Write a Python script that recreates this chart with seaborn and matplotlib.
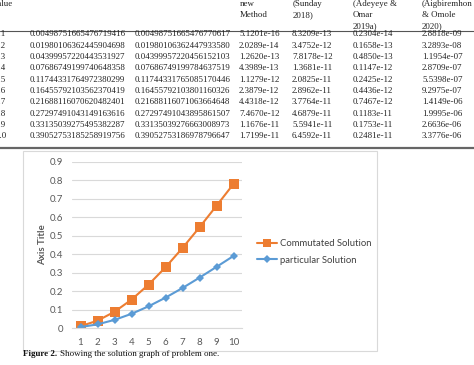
import matplotlib
matplotlib.use("Agg")
import matplotlib.pyplot as plt
import seaborn as sns
import pandas as pd
from matplotlib.patches import Rectangle
from matplotlib.lines import Line2D

# ---------------- data ----------------
table_x = ["0.1", "0.2", "0.3", "0.4", "0.5", "0.6", "0.7", "0.8", "0.9", "1.0"]
exact_col = ["0.00498751665476719416", "0.01980106362445904698", "0.04399957220443531927",
             "0.07686749199740648358", "0.11744331764972380299", "0.16455792103562370419",
             "0.21688116070620482401", "0.27297491043149163616", "0.33135039275495382287",
             "0.39052753185258919756"]
computed_col = ["0.00498751665476770617", "0.01980106362447933580", "0.04399957220456152103",
                "0.07686749199784637519", "0.11744331765085170446", "0.16455792103801160326",
                "0.21688116071063664648", "0.27297491043895861507", "0.33135039276663008973",
                "0.39052753186978796647"]
err_new = ["5.1201e-16", "2.0289e-14", "1.2620e-13", "4.3989e-13", "1.1279e-12",
           "2.3879e-12", "4.4318e-12", "7.4670e-12", "1.1676e-11", "1.7199e-11"]
err_sunday = ["8.3209e-13", "3.4752e-12", "7.8178e-12", "1.3681e-11", "2.0825e-11",
              "2.8962e-11", "3.7764e-11", "4.6879e-11", "5.5941e-11", "6.4592e-11"]
err_adeyeye = ["0.2304e-14", "0.1658e-13", "0.4850e-13", "0.1147e-12", "0.2425e-12",
               "0.4436e-12", "0.7467e-12", "0.1183e-11", "0.1753e-11", "0.2481e-11"]
err_aigbi = ["2.8818e-09", "3.2893e-08", "1.1954e-07", "2.8709e-07", "5.5398e-07",
             "9.2975e-07", "1.4149e-06", "1.9995e-06", "2.6636e-06", "3.3776e-06"]
header_new = ["new", "Method"]
header_sunday = ["(Sunday", "2018)"]
header_adeyeye = ["(Adeyeye &", "Omar", "2019a)"]
header_aigbi = ["(Aigbiremhon", "& Omole", "2020)"]

categories = ["1", "2", "3", "4", "5", "6", "7", "8", "9", "10"]
commutated = [0.0100, 0.0396, 0.0880, 0.1537, 0.2349, 0.3291, 0.4338, 0.5459, 0.6627, 0.7811]
particular = [0.00499, 0.01980, 0.04400, 0.07687, 0.11744, 0.16456, 0.21688, 0.27297, 0.33135, 0.39053]
series_names = ["Commutated Solution", "particular Solution"]
y_ticks = [0, 0.1, 0.2, 0.3, 0.4, 0.5, 0.6, 0.7, 0.8, 0.9]
y_tick_labels = ["0", "0.1", "0.2", "0.3", "0.4", "0.5", "0.6", "0.7", "0.8", "0.9"]

# ---------------- figure ----------------
W, H = 474, 365
sns.set_theme(style="white")
plt.rcParams["font.family"] = ["Lato", "DejaVu Sans"]
fig = plt.figure(figsize=(W / 100, H / 100), dpi=100)
fig.patch.set_facecolor("white")


def fx(x):
    return x / W


def fy(y):
    return 1 - y / H


SERIF = ["Liberation Serif", "DejaVu Serif"]
TFS = 6.4
tcol = "#222222"

# table header
fig.text(fx(-7), fy(4), "Value", family=SERIF, fontsize=TFS, color=tcol, va="center", ha="left")
for cx, lines in [(240, header_new), (293, header_sunday), (353, header_adeyeye), (422, header_aigbi)]:
    for i, t in enumerate(lines):
        fig.text(fx(cx), fy(4 + 11 * i), t, family=SERIF, fontsize=TFS, color=tcol, va="center", ha="left")

fig.add_artist(Line2D([0, 1], [fy(30.5), fy(30.5)], transform=fig.transFigure, color="#555555", lw=0.8))
fig.add_artist(Line2D([0, 1], [fy(147.5), fy(147.5)], transform=fig.transFigure, color="#666666", lw=1.6))

cols = [(-5, table_x), (30, exact_col), (135, computed_col), (239, err_new),
        (292, err_sunday), (353, err_adeyeye), (422, err_aigbi)]
for i in range(10):
    yy = 34.5 + 11.3 * i
    for cx, arr in cols:
        fig.text(fx(cx), fy(yy), arr[i], family=SERIF, fontsize=TFS, color=tcol, va="center", ha="left")

# chart frame
fig.add_artist(Rectangle((fx(23), fy(351)), fx(377) - fx(23), fy(151) - fy(351),
                         transform=fig.transFigure, fill=False, edgecolor="#d9d9d9", lw=0.8))

# plot area
ax = fig.add_axes([fx(72), fy(328), fx(242) - fx(72), fy(162) - fy(328)])
df = pd.DataFrame({
    "x": list(range(1, 11)) * 2,
    "y": commutated + particular,
    "series": [series_names[0]] * 10 + [series_names[1]] * 10,
})
palette = {series_names[0]: "#ED7D31", series_names[1]: "#5B9BD5"}
sns.lineplot(data=df, x="x", y="y", hue="series", style="series",
             markers={series_names[0]: "s", series_names[1]: "D"},
             dashes=False, palette=palette, ax=ax, linewidth=1.5, legend=False)
for line, ms in zip(ax.lines, [6.5, 3.6]):
    line.set_markersize(ms)
    line.set_markeredgewidth(0)

ax.set_xlim(0.5, 10.5)
ax.set_ylim(0, 0.9)
ax.set_xticks(range(1, 11))
ax.set_xticklabels(categories)
ax.set_yticks(y_ticks)
ax.set_yticklabels(y_tick_labels)
ax.yaxis.grid(True, color="#d9d9d9", lw=0.8)
ax.xaxis.grid(False)
for s in ["top", "right", "left"]:
    ax.spines[s].set_visible(False)
ax.spines["bottom"].set_color("#d9d9d9")
ax.spines["bottom"].set_linewidth(0.8)
ax.tick_params(axis="both", length=0, labelsize=7, colors="#595959")
ax.tick_params(axis="y", pad=6.5)
ax.tick_params(axis="x", pad=7)
ax.set_xlabel("")
ax.set_ylabel("")
ax.patch.set_alpha(0)

fig.text(fx(43), fy(245), "Axis Title", rotation=90, fontsize=7, fontweight="bold",
         color="#595959", ha="center", va="center")

handles = [Line2D([], [], color="#ED7D31", marker="s", markersize=6, lw=1.5, markeredgewidth=0),
           Line2D([], [], color="#5B9BD5", marker="D", markersize=3.6, lw=1.5, markeredgewidth=0)]
fig.legend(handles, series_names, loc="center left", bbox_to_anchor=(fx(257), fy(252)),
           bbox_transform=fig.transFigure, frameon=False, fontsize=6.8, handlelength=2.1,
           handletextpad=0.3, labelspacing=0.75, borderpad=0, borderaxespad=0,
           labelcolor="#404040")

# caption
renderer = fig.canvas.get_renderer()
t1 = fig.text(fx(23), fy(354), "Figure 2.", family=SERIF, fontsize=6.5, fontweight="bold",
              color="#111111", va="center", ha="left")
bb = t1.get_window_extent(renderer=renderer)
fig.text(fx(bb.x1 + 2.5), fy(354), "Showing the solution graph of problem one.", family=SERIF,
         fontsize=6.5, color="#111111", va="center", ha="left")

fig.savefig("out.png", dpi=100, facecolor="white")
